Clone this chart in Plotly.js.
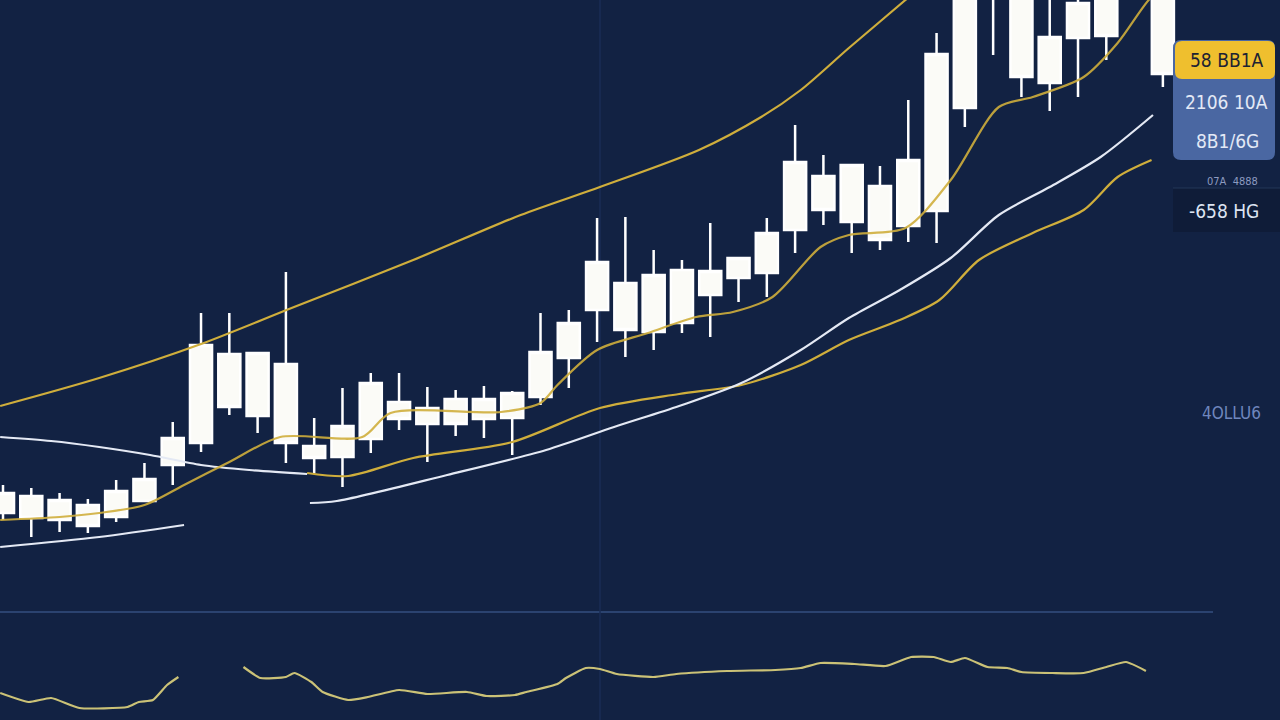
<!DOCTYPE html>
<html>
<head>
<meta charset="utf-8">
<script src="https://cdn.plot.ly/plotly-3.0.1.min.js"></script>
<style>
  html, body { margin: 0; padding: 0; background: #122243; }
  #chart { width: 1280px; height: 720px; }
</style>
</head>
<body>
<div id="chart"></div>
<script>
// ---- Price candles (one per session index) ----
const sessions = [0,1,2,3,4,5,6,7,8,9,10,11,12,13,14,15,16,17,18,19,20,21,22,23,24,25,26,27,28,29,30,31,32,33,34,35,36,37,38,39,40,41];
const openP  = [28.7,30.4,28.0,29.5,28.3,29.9,33.5,35.7,44.6,38.4,43.6,35.4,34.3,36.1,39.8,37.6,40.1,38.1,38.2,40.3,44.2,49.0,51.7,46.8,53.0,50.5,52.2,52.7,57.0,62.4,57.8,61.4,57.4,58.9,69.2,81.0,82.0,71.7,76.2,82.5,null,83.0];
const highP  = [31.5,31.2,30.7,30.1,32.0,33.7,37.8,48.7,48.7,44.7,52.8,38.2,41.2,42.7,42.7,41.3,41.0,41.4,40.9,48.7,49.0,58.2,58.3,55.0,54.0,57.7,54.3,58.2,67.5,64.5,63.5,63.4,70.0,76.7,85.0,88.0,84.0,81.0,82.0,84.5,null,85.0];
const lowP   = [28.0,26.3,26.8,26.7,27.8,29.8,31.5,34.8,38.5,36.7,33.7,32.7,31.3,34.7,37.0,33.8,36.4,36.2,34.5,39.5,41.2,45.8,44.3,45.0,46.7,46.3,49.8,50.3,54.7,57.5,54.7,55.0,55.8,55.7,67.3,74.5,70.3,68.9,70.3,74.0,null,71.3];
const closeP = [30.7,28.2,30.0,27.4,30.9,32.1,36.2,45.5,39.3,44.7,35.7,34.2,37.4,41.7,38.1,39.2,37.6,40.1,40.7,44.8,47.7,53.8,47.0,52.5,47.7,52.9,54.2,56.7,63.8,59.0,63.5,56.0,64.0,74.6,83.0,86.0,72.3,76.3,79.7,76.4,null,72.6];

// ---- Overlay lines (session index, price) ----
const upperBandX = [-0.1,3.4,7.0,10.2,14.5,18.3,21.1,24.6,26.8,28.2,29.9,31.9,33.1];
const upperBandY = [39.4,42.2,45.6,49.2,54.0,58.5,61.3,65.0,68.3,71.0,75.2,80.0,83.0];

const fastAvgX = [-0.1,2.0,3.4,5.0,6.4,8.0,9.8,12.7,13.7,17.6,19.0,19.6,21.0,22.8,24.5,25.8,27.2,28.9,29.9,31.9,33.5,35.2,36.4,38.2,39.4,40.5,41.3];
const fastAvgY = [28.0,28.3,28.7,29.5,31.5,33.8,36.3,36.3,38.7,38.8,39.7,41.5,45.0,46.7,48.3,48.8,50.3,55.3,56.5,57.2,62.0,69.3,70.3,72.3,75.7,80.0,82.0];

const earlyAvgX = [-0.1,1.7,3.4,5.2,7.0,8.7,10.75];
const earlyAvgY = [36.3,35.9,35.3,34.5,33.5,33.0,32.6];

const lowerBandX = [10.75,12.2,14.5,18.0,21.1,23.9,26.1,28.2,29.9,31.7,33.1,34.5,36.4,38.2,39.4,40.6];
const lowerBandY = [32.7,32.4,34.2,35.8,39.2,40.6,41.5,43.5,46.0,48.0,50.0,54.0,56.7,59.0,62.3,64.0];

const slowAvgX = [10.85,11.8,15.7,19.2,21.6,23.9,26.1,28.2,29.9,31.7,33.5,35.2,37.0,38.8,40.65];
const slowAvgY = [29.7,29.9,32.5,35.0,37.3,39.4,41.7,45.0,48.2,51.0,54.2,58.5,61.3,64.3,68.5];

const baseAvgX = [-0.1,3.4,6.4];
const baseAvgY = [25.3,26.3,27.5];

// ---- Lower oscillator panel ----
const oscX = [-0.1,0.9,1.7,2.7,4.4,4.8,5.3,5.8,6.2,7.3,8.5,9.1,10.0,10.3,10.9,11.3,12.2,12.9,14.0,15.0,16.4,17.1,18.1,18.5,19.6,19.9,20.6,21.1,21.7,23.0,23.8,25.6,27.3,28.2,28.9,30.1,31.2,32.1,32.9,33.5,34.0,34.8,35.5,36.0,37.1,38.2,39.0,39.7,40.4];
const oscY = [27,18,22,12,13,18,20,35,43,null,53,42,43,47,38,28,20,23,30,26,28,24,25,28,36,42,52,51,46,43,46,49,50,52,57,56,54,63,63,58,62,53,52,48,47,47,53,58,49];

// ---- Side labels ----
const tagPrice  = '58 BB1A';
const tagLines  = ['2106 10A', '8B1/6G'];
const tagSmall  = '07A  4888';
const tagChange = '-658 HG';
const tagMid    = '4OLLU6';

const GOLD = '#cfae3c';
const WHITE_LINE = '#e4e9f4';
const BG = '#122243';
const NARROW = 'Liberation Sans Narrow, DejaVu Sans Condensed, Roboto, sans-serif';

function line(x, y, color, width, extra) {
  return Object.assign({
    type: 'scatter', mode: 'lines', x: x, y: y,
    line: { color: color, width: width, shape: 'spline', smoothing: 0.8 },
    hoverinfo: 'skip', showlegend: false, xaxis: 'x', yaxis: 'y'
  }, extra || {});
}

const traces = [
  line(upperBandX, upperBandY, GOLD, 2.2),
  line(earlyAvgX, earlyAvgY, WHITE_LINE, 2.2),
  line(baseAvgX, baseAvgY, WHITE_LINE, 2.2),
  line(lowerBandX, lowerBandY, GOLD, 2.2),
  line(slowAvgX, slowAvgY, WHITE_LINE, 2.2),
  {
    type: 'candlestick', x: sessions,
    open: openP, high: highP, low: lowP, close: closeP,
    increasing: { line: { color: '#ffffff', width: 2.5 }, fillcolor: '#fbfbf7' },
    decreasing: { line: { color: '#ffffff', width: 2.5 }, fillcolor: '#fbfbf7' },
    whiskerwidth: 0, hoverinfo: 'skip', showlegend: false, xaxis: 'x', yaxis: 'y'
  },
  line(fastAvgX, fastAvgY, GOLD, 2.2, { opacity: 0.9 }),
  {
    type: 'scatter', mode: 'lines', x: oscX, y: oscY,
    line: { color: '#cbc277', width: 2.2, shape: 'spline', smoothing: 0.5 },
    connectgaps: false, hoverinfo: 'skip', showlegend: false, xaxis: 'x', yaxis: 'y2'
  }
];

// pixel helpers for the side tags (paper coordinates)
const px = v => v / 1280;
const py = v => 1 - v / 720;

function roundRect(x0, y0, x1, y1, r) {
  const X = v => px(v), Y = v => py(v);
  return `M ${X(x0 + r)} ${Y(y0)} L ${X(x1 - r)} ${Y(y0)} Q ${X(x1)} ${Y(y0)} ${X(x1)} ${Y(y0 + r)} ` +
         `L ${X(x1)} ${Y(y1 - r)} Q ${X(x1)} ${Y(y1)} ${X(x1 - r)} ${Y(y1)} L ${X(x0 + r)} ${Y(y1)} ` +
         `Q ${X(x0)} ${Y(y1)} ${X(x0)} ${Y(y1 - r)} L ${X(x0)} ${Y(y0 + r)} Q ${X(x0)} ${Y(y0)} ${X(x0 + r)} ${Y(y0)} Z`;
}

const shapes = [
  // panel divider and faint vertical guide
  { type: 'line', xref: 'paper', yref: 'paper', x0: 0, x1: px(1213), y0: py(612), y1: py(612),
    line: { color: '#2b4370', width: 2 }, layer: 'below' },
  { type: 'line', xref: 'paper', yref: 'paper', x0: px(600), x1: px(600), y0: 0, y1: 1,
    line: { color: '#1a2d55', width: 1.5 }, layer: 'below' },
  // price tag boxes
  { type: 'path', xref: 'paper', yref: 'paper', path: roundRect(1173, 40, 1275, 160, 8),
    fillcolor: '#4a67a2', line: { width: 0 } },
  { type: 'path', xref: 'paper', yref: 'paper', path: roundRect(1175, 41, 1275, 79, 7),
    fillcolor: '#efbf2e', line: { width: 0 } },
  { type: 'rect', xref: 'paper', yref: 'paper', x0: px(1173), x1: px(1280), y0: py(232), y1: py(188),
    fillcolor: '#0f1c38', line: { width: 0 } },
  { type: 'line', xref: 'paper', yref: 'paper', x0: px(1173), x1: px(1280), y0: py(188), y1: py(188),
    line: { color: '#223658', width: 1 } }
];

function tag(text, x, y, size, color) {
  return { xref: 'paper', yref: 'paper', x: px(x), y: py(y), xanchor: 'center', yanchor: 'middle',
           text: text, showarrow: false, font: { family: NARROW, size: size, color: color } };
}

const annotations = [
  tag(tagPrice, 1227, 60, 19, '#1c2233'),
  tag(tagLines[0], 1226, 102, 19, '#e3e9f6'),
  tag(tagLines[1], 1227, 141, 19, '#e3e9f6'),
  tag(tagSmall, 1232, 181, 11, '#8d9bc0'),
  tag(tagChange, 1224, 211, 19, '#dde4f2'),
  tag(tagMid, 1231, 413, 17, '#6f86bd')
];

const layout = {
  width: 1280, height: 720,
  margin: { l: 0, r: 0, t: 0, b: 0, pad: 0 },
  paper_bgcolor: BG, plot_bgcolor: BG,
  showlegend: false,
  boxgap: 0.22, boxgroupgap: 0,
  xaxis: { range: [-0.106, 45.14], visible: false, showgrid: false, zeroline: false,
           rangeslider: { visible: false }, fixedrange: true },
  yaxis: { domain: [0.15, 1], range: [18.8, 80], visible: false, showgrid: false, zeroline: false, fixedrange: true },
  yaxis2: { domain: [0, 0.15], range: [0, 108], visible: false, showgrid: false, zeroline: false, fixedrange: true },
  shapes: shapes,
  annotations: annotations
};

Plotly.newPlot('chart', traces, layout, { displayModeBar: false, staticPlot: true });
</script>
</body>
</html>
